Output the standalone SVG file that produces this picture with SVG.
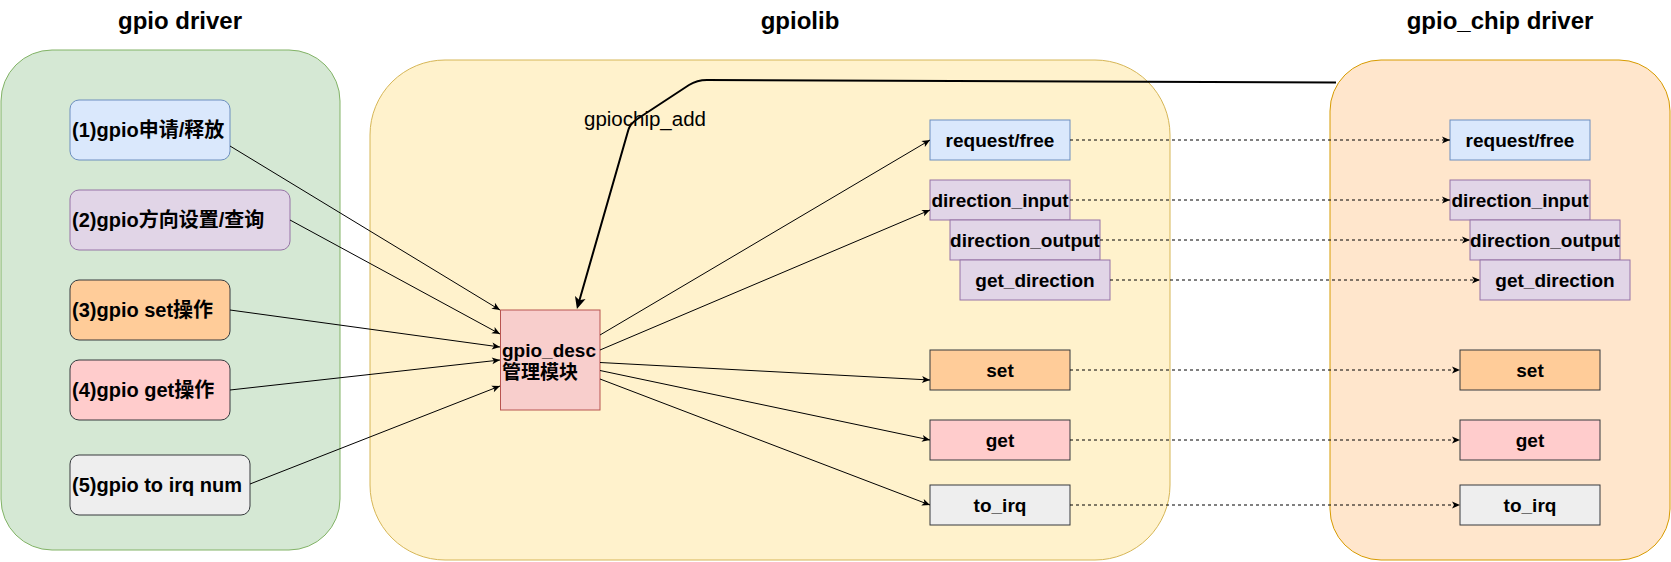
<svg xmlns="http://www.w3.org/2000/svg" width="1671" height="562" viewBox="0 0 1671 562">
<style>
text{font-family:"Liberation Sans","Noto Sans CJK SC",sans-serif;fill:#000}
.t{font-size:24px;font-weight:bold;text-anchor:middle}
.n{font-size:19px;font-weight:bold}
.l{font-size:20px;font-weight:bold}
.c{text-anchor:middle}
.lbl{font-size:20.5px;text-anchor:middle}
.green{fill:#d5e8d4;stroke:#82b366}
.yellow{fill:#fff2cc;stroke:#d6b656}
.orangeC{fill:#ffe6cc;stroke:#d79b00}
.blue{fill:#dae8fc;stroke:#6c8ebf}
.purple{fill:#e1d5e7;stroke:#9673a6}
.peach{fill:#ffcc99;stroke:#36393d}
.pink{fill:#ffcccc;stroke:#36393d}
.gray{fill:#eeeeee;stroke:#36393d}
.red{fill:#f8cecc;stroke:#b85450}
.e{fill:none;stroke:#000;stroke-width:1}
.d{fill:none;stroke:#000;stroke-width:1;stroke-dasharray:3 3}
</style>
<defs>
<marker id="a" markerUnits="userSpaceOnUse" markerWidth="10" markerHeight="10" viewBox="0 0 10 10" refX="9" refY="5" orient="auto"><path d="M1,1.5 L9,5 L1,8.5 L3,5 Z" fill="#000"/></marker>
<marker id="ab" markerUnits="userSpaceOnUse" markerWidth="13" markerHeight="12" viewBox="0 0 13 12" refX="6" refY="6" orient="auto"><path d="M0,0.5 L12,6 L0,11.5 L3,6 Z" fill="#000"/></marker>
</defs>

<text class="t" x="180" y="29">gpio driver</text>
<text class="t" x="800" y="29">gpiolib</text>
<text class="t" x="1500" y="29">gpio_chip driver</text>

<g id="gpio-driver"><rect class="green" x="1" y="50" width="339" height="500" rx="51" ry="51"/></g>
<g id="gpiolib"><rect class="yellow" x="370" y="60" width="800" height="500" rx="75" ry="75"/></g>
<g id="gpio-chip-driver"><rect class="orangeC" x="1330" y="60" width="340" height="500" rx="51" ry="51"/></g>

<g id="n1"><rect class="blue" x="70" y="100" width="160" height="60" rx="9"/><text class="l" x="72" y="137">(1)gpio申请/释放</text></g>
<g id="n2"><rect class="purple" x="70" y="190" width="220" height="60" rx="9"/><text class="l" x="72" y="227">(2)gpio方向设置/查询</text></g>
<g id="n3"><rect class="peach" x="70" y="280" width="160" height="60" rx="9"/><text class="l" x="72" y="317">(3)gpio set操作</text></g>
<g id="n4"><rect class="pink" x="70" y="360" width="160" height="60" rx="9"/><text class="l" x="72" y="397">(4)gpio get操作</text></g>
<g id="n5"><rect class="gray" x="70" y="455" width="180" height="60" rx="9"/><text class="l" x="72" y="492">(5)gpio to irq num</text></g>

<g id="gpio-desc"><rect class="red" x="500.5" y="310" width="99.5" height="100"/><text class="n" x="502" y="357">gpio_desc</text><text class="n" x="502" y="379">管理模块</text></g>

<g id="lib-request"><rect class="blue" x="930" y="120" width="140" height="40"/><text class="n c" x="1000" y="146.7">request/free</text></g>
<g id="lib-dir-in"><rect class="purple" x="930" y="180" width="140" height="40"/><text class="n c" x="1000" y="206.7">direction_input</text></g>
<g id="lib-dir-out"><rect class="purple" x="950" y="220" width="150" height="40"/><text class="n c" x="1025" y="246.7">direction_output</text></g>
<g id="lib-get-dir"><rect class="purple" x="960" y="260" width="150" height="40"/><text class="n c" x="1035" y="286.7">get_direction</text></g>
<g id="lib-set"><rect class="peach" x="930" y="350" width="140" height="40"/><text class="n c" x="1000" y="376.7">set</text></g>
<g id="lib-get"><rect class="pink" x="930" y="420" width="140" height="40"/><text class="n c" x="1000" y="446.7">get</text></g>
<g id="lib-irq"><rect class="gray" x="930" y="485" width="140" height="40"/><text class="n c" x="1000" y="511.7">to_irq</text></g>

<g id="chip-request"><rect class="blue" x="1450" y="120" width="140" height="40"/><text class="n c" x="1520" y="146.7">request/free</text></g>
<g id="chip-dir-in"><rect class="purple" x="1450" y="180" width="140" height="40"/><text class="n c" x="1520" y="206.7">direction_input</text></g>
<g id="chip-dir-out"><rect class="purple" x="1470" y="220" width="150" height="40"/><text class="n c" x="1545" y="246.7">direction_output</text></g>
<g id="chip-get-dir"><rect class="purple" x="1480" y="260" width="150" height="40"/><text class="n c" x="1555" y="286.7">get_direction</text></g>
<g id="chip-set"><rect class="peach" x="1460" y="350" width="140" height="40"/><text class="n c" x="1530" y="376.7">set</text></g>
<g id="chip-get"><rect class="pink" x="1460" y="420" width="140" height="40"/><text class="n c" x="1530" y="446.7">get</text></g>
<g id="chip-irq"><rect class="gray" x="1460" y="485" width="140" height="40"/><text class="n c" x="1530" y="511.7">to_irq</text></g>

<g id="connectors">
<path class="e" marker-end="url(#a)" d="M230,146 L500,310"/>
<path class="e" marker-end="url(#a)" d="M290,220 L500,334"/>
<path class="e" marker-end="url(#a)" d="M230,310 L500,347"/>
<path class="e" marker-end="url(#a)" d="M230,390 L500,360"/>
<path class="e" marker-end="url(#a)" d="M250,484 L500,386"/>

<path class="e" marker-end="url(#a)" d="M600,335 L930,140"/>
<path class="e" marker-end="url(#a)" d="M600,350 L930,210"/>
<path class="e" marker-end="url(#a)" d="M600,362.5 L930,380"/>
<path class="e" marker-end="url(#a)" d="M600,370.5 L930,440"/>
<path class="e" marker-end="url(#a)" d="M600,379 L930,505"/>

<path class="d" marker-end="url(#a)" d="M1070,140 L1450,140"/>
<path class="d" marker-end="url(#a)" d="M1070,200 L1450,200"/>
<path class="d" marker-end="url(#a)" d="M1100,240 L1470,240"/>
<path class="d" marker-end="url(#a)" d="M1110,280 L1480,280"/>
<path class="d" marker-end="url(#a)" d="M1070,370 L1460,370"/>
<path class="d" marker-end="url(#a)" d="M1070,440 L1460,440"/>
<path class="d" marker-end="url(#a)" d="M1070,505 L1460,505"/>

<path fill="none" stroke="#000" stroke-width="2" marker-end="url(#ab)" d="M1336,82.5 L707,80 Q697,80 689,85 L638,118.5 Q630,124 628.4,129.8 L578.6,303.2"/>
<text class="lbl" x="645" y="126">gpiochip_add</text>
</g>
</svg>
